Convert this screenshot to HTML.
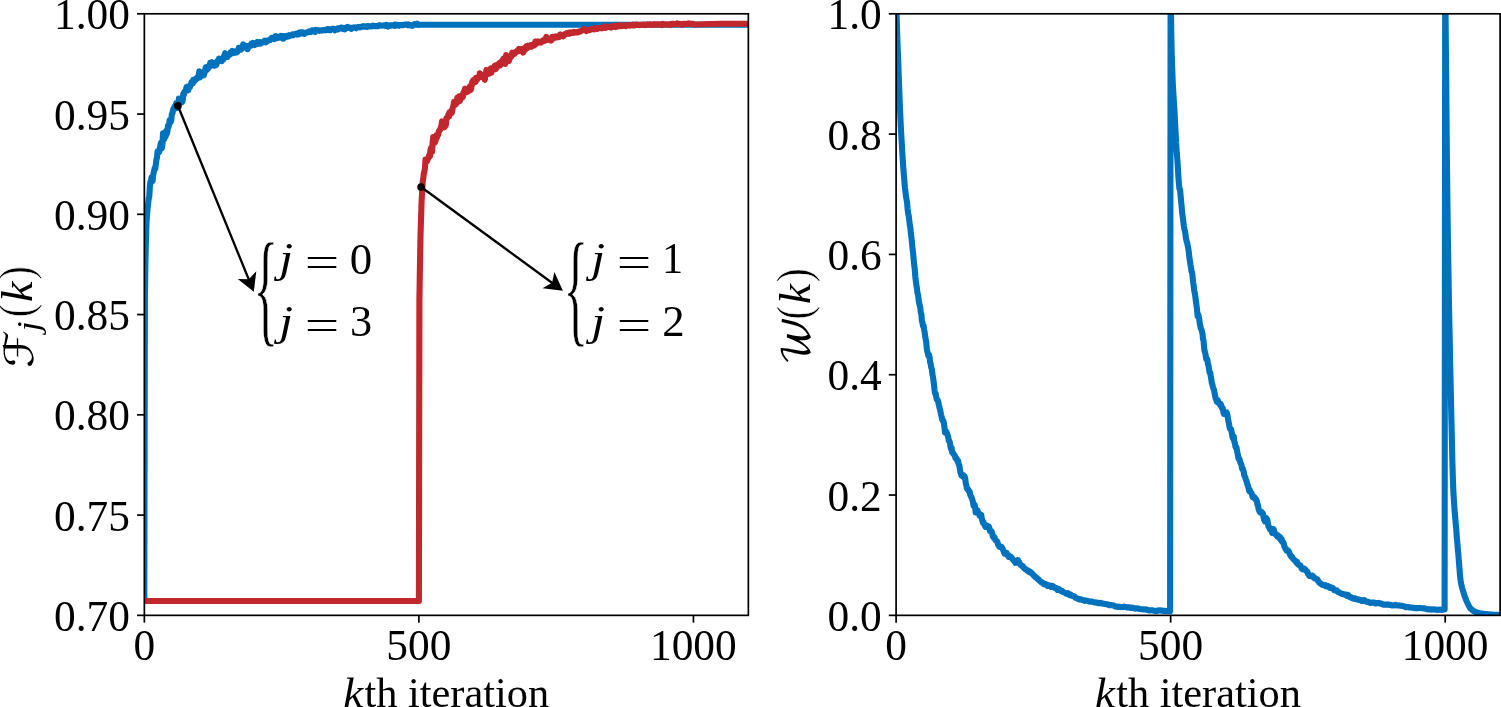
<!DOCTYPE html>
<html lang="en">
<head>
<meta charset="utf-8">
<title>Fidelity and cost versus iteration</title>
<style>
html,body{margin:0;padding:0;background:#fff;}
body{width:1501px;height:707px;overflow:hidden;}
svg{display:block;}
text{font-family:"Liberation Serif","DejaVu Serif",serif;fill:#000;}
.fi{font-style:italic;}
.fds{font-family:"DejaVu Sans","Liberation Serif",serif;}
.fdm{font-family:"DejaVu Math TeX Gyre","DejaVu Sans","Liberation Serif",serif;}
</style>
</head>
<body>
<svg width="1501" height="707" viewBox="0 0 1501 707">
<defs>
<clipPath id="cl"><rect x="144.35" y="13.80" width="604.00" height="601.55"/></clipPath>
<clipPath id="cr"><rect x="896.10" y="13.80" width="604.00" height="601.55"/></clipPath>
</defs>
<rect width="1501" height="707" fill="#fff"/>
<g fill="none" stroke-width="6.1" stroke-linejoin="round" stroke-linecap="butt">
<path clip-path="url(#cl)" stroke="#0072BD" d="M144.3,601.0L144.9,300.1L145.4,262.1L146.0,238.1L146.5,222.0L147.1,213.9L147.6,208.1L148.2,203.0L148.7,198.9L149.3,196.3L149.8,187.1L150.4,181.8L150.9,181.9L151.5,177.3L152.0,181.3L152.6,180.8L153.1,175.2L153.7,172.8L154.2,170.3L154.8,167.8L155.3,168.6L155.9,163.8L156.4,159.7L157.0,157.7L157.5,151.4L158.1,150.8L158.6,151.1L159.2,152.1L159.7,150.0L160.3,145.9L160.8,143.3L161.4,142.2L161.9,148.2L162.5,143.5L163.0,133.3L163.6,138.9L164.1,139.3L164.7,137.9L165.2,135.9L165.8,136.0L166.3,130.9L166.9,133.7L167.4,131.3L168.0,125.9L168.5,127.1L169.1,124.5L169.6,120.3L170.2,121.0L170.7,122.2L171.3,120.2L171.8,114.5L172.4,113.4L172.9,110.6L173.5,108.5L174.0,109.4L174.5,107.2L175.1,105.7L175.6,107.7L176.2,103.1L176.7,106.7L177.3,107.8L177.8,104.5L178.4,106.5L178.9,98.6L179.5,99.1L180.0,101.5L180.6,99.8L181.1,100.7L181.7,99.7L182.2,102.2L182.8,99.4L183.3,94.1L183.9,94.7L184.4,91.7L185.0,91.3L185.5,90.9L186.1,88.9L186.6,87.0L187.2,87.4L187.7,86.7L188.3,90.3L188.8,87.3L189.4,86.3L189.9,87.0L190.5,85.0L191.0,84.0L191.6,82.0L192.1,81.7L192.7,83.7L193.2,79.9L193.8,81.8L194.3,80.8L194.9,79.9L195.4,79.0L196.0,78.5L196.5,79.3L197.1,77.7L197.6,78.1L198.2,76.8L198.7,75.2L199.3,71.3L199.8,77.5L200.4,74.8L200.9,74.5L201.5,75.9L202.0,74.4L202.6,73.9L203.1,73.1L203.7,75.4L204.2,74.2L204.8,71.8L205.3,69.4L205.8,67.3L206.4,69.4L206.9,69.8L207.5,69.1L208.0,66.5L208.6,68.1L209.1,67.2L209.7,65.1L210.2,62.9L210.8,64.5L211.3,65.3L211.9,62.2L212.4,64.8L213.0,65.0L213.5,64.5L214.1,65.6L214.6,64.7L215.2,65.5L215.7,63.7L216.3,65.0L216.8,62.3L217.4,60.9L217.9,61.4L218.5,61.4L219.0,58.5L219.6,59.8L220.1,60.4L220.7,60.0L221.2,60.6L221.8,61.0L222.3,59.2L222.9,58.2L223.4,59.4L224.0,55.9L224.5,56.9L225.1,53.2L225.6,55.2L226.2,55.6L226.7,54.7L227.3,57.0L227.8,55.8L228.4,55.7L228.9,55.3L229.5,54.1L230.0,54.6L230.6,52.3L231.1,52.2L231.7,52.2L232.2,51.0L232.8,53.1L233.3,52.6L233.9,52.8L234.4,52.3L234.9,51.5L235.5,52.0L236.0,52.4L236.6,51.5L237.1,52.1L237.7,50.6L238.2,50.0L238.8,47.8L239.3,49.5L239.9,49.4L240.4,47.8L241.0,49.5L241.5,49.1L242.1,48.8L242.6,46.0L243.2,44.3L243.7,45.7L244.3,45.8L244.8,46.2L245.4,46.8L245.9,46.6L246.5,47.3L247.0,46.0L247.6,49.2L248.1,47.0L248.7,46.0L249.2,46.2L249.8,45.4L250.3,45.1L250.9,45.5L251.4,43.7L252.0,44.0L252.5,44.2L253.1,43.0L253.6,44.4L254.2,44.4L254.7,45.0L255.3,43.9L255.8,43.5L256.4,42.7L256.9,43.3L257.5,42.0L258.0,43.9L258.6,42.9L259.1,43.2L259.7,43.6L260.2,42.1L260.8,43.1L261.3,43.3L261.9,42.6L262.4,42.6L263.0,42.3L263.5,42.1L264.1,41.5L264.6,40.7L265.1,42.2L265.7,42.4L266.2,42.0L266.8,40.7L267.3,40.5L267.9,40.8L268.4,40.6L269.0,40.3L269.5,40.1L270.1,40.0L270.6,39.6L271.2,38.5L271.7,38.0L272.3,38.4L272.8,37.9L273.4,38.7L273.9,38.8L274.5,39.0L275.0,37.7L275.6,36.1L276.1,37.3L276.7,37.6L277.2,38.1L277.8,36.7L278.3,37.0L278.9,37.7L279.4,37.5L280.0,37.3L280.5,37.5L281.1,35.9L281.6,36.4L282.2,36.5L282.7,36.2L283.3,38.7L283.8,37.2L284.4,36.3L284.9,36.8L285.5,36.7L286.0,37.0L286.6,35.9L287.1,36.1L287.7,36.1L288.2,35.8L288.8,36.3L289.3,35.3L289.9,35.7L290.4,35.8L291.0,35.5L291.5,35.2L292.1,35.0L292.6,34.4L293.2,35.1L293.7,34.4L294.3,34.4L294.8,34.1L295.4,34.2L295.9,34.2L296.4,33.7L297.0,34.5L297.5,34.2L298.1,34.5L298.6,34.5L299.2,32.7L299.7,33.1L300.3,33.4L300.8,32.3L301.4,33.4L301.9,32.3L302.5,32.9L303.0,32.7L303.6,33.5L304.1,33.9L304.7,33.2L305.2,32.8L305.8,33.0L306.3,32.7L306.9,32.5L307.4,32.3L308.0,32.1L308.5,31.7L309.1,31.4L309.6,31.6L310.2,32.1L310.7,32.0L311.3,31.8L311.8,31.4L312.4,30.4L312.9,30.4L313.5,30.5L314.0,31.2L314.6,31.3L315.1,31.9L315.7,30.0L316.2,30.4L316.8,30.4L317.3,30.5L317.9,30.1L318.4,30.4L319.0,30.4L319.5,30.8L320.1,30.5L320.6,30.4L321.2,30.5L321.7,30.6L322.3,30.4L322.8,30.0L323.4,30.0L323.9,30.1L324.5,30.1L325.0,30.4L325.5,30.1L326.1,30.1L326.6,29.7L327.2,29.2L327.7,29.7L328.3,29.9L328.8,29.3L329.4,30.1L329.9,29.6L330.5,30.0L331.0,29.4L331.6,29.0L332.1,28.9L332.7,29.1L333.2,28.8L333.8,28.7L334.3,29.2L334.9,30.3L335.4,29.1L336.0,29.1L336.5,29.3L337.1,29.0L337.6,28.5L338.2,29.2L338.7,28.5L339.3,28.2L339.8,28.4L340.4,27.8L340.9,27.5L341.5,27.7L342.0,28.2L342.6,28.8L343.1,27.9L343.7,28.0L344.2,28.3L344.8,29.4L345.3,28.5L345.9,27.9L346.4,28.0L347.0,27.2L347.5,26.9L348.1,27.3L348.6,28.0L349.2,28.1L349.7,28.0L350.3,27.7L350.8,27.8L351.4,28.8L351.9,27.9L352.5,27.9L353.0,27.5L353.6,27.7L354.1,27.4L354.7,27.5L355.2,27.4L355.8,27.8L356.3,28.2L356.8,27.3L357.4,27.3L357.9,27.1L358.5,27.0L359.0,27.2L359.6,27.1L360.1,27.4L360.7,26.9L361.2,26.9L361.8,26.8L362.3,26.8L362.9,26.4L363.4,26.2L364.0,26.8L364.5,26.8L365.1,26.6L365.6,26.3L366.2,26.3L366.7,26.9L367.3,27.0L367.8,26.2L368.4,26.0L368.9,26.3L369.5,26.5L370.0,26.2L370.6,26.2L371.1,26.0L371.7,26.4L372.2,26.1L372.8,25.7L373.3,26.0L373.9,26.1L374.4,25.9L375.0,26.0L375.5,26.2L376.1,26.0L376.6,26.0L377.2,26.2L377.7,26.3L378.3,26.1L378.8,25.8L379.4,25.2L379.9,25.6L380.5,25.5L381.0,25.5L381.6,25.7L382.1,25.7L382.7,25.5L383.2,25.5L383.8,25.2L384.3,25.4L384.9,25.7L385.4,25.9L385.9,25.8L386.5,24.9L387.0,25.0L387.6,25.9L388.1,26.5L388.7,25.8L389.2,25.7L389.8,25.4L390.3,25.4L390.9,25.4L391.4,25.6L392.0,25.5L392.5,25.4L393.1,25.1L393.6,25.3L394.2,25.7L394.7,24.6L395.3,24.6L395.8,25.2L396.4,25.6L396.9,24.9L397.5,24.7L398.0,25.1L398.6,25.3L399.1,25.7L399.7,25.1L400.2,25.0L400.8,24.9L401.3,25.2L401.9,25.2L402.4,25.2L403.0,24.9L403.5,25.1L404.1,24.8L404.6,24.8L405.2,24.6L405.7,24.5L406.3,24.4L406.8,24.9L407.4,24.7L407.9,25.2L408.5,24.4L409.0,24.8L409.6,25.0L410.1,25.4L410.7,25.4L411.2,25.1L411.8,25.3L412.3,25.8L412.9,25.2L413.4,25.0L414.0,24.9L414.5,24.3L415.1,24.7L415.6,24.2L416.1,24.6L416.7,24.6L417.2,23.8L417.8,24.4L418.3,24.9L418.9,25.0L419.4,24.7L420.0,24.7L420.5,24.7L421.1,24.7L421.6,24.7L422.2,24.7L422.7,24.7L423.3,24.7L423.8,24.7L424.4,24.7L424.9,24.7L425.5,24.7L426.0,24.7L426.6,24.7L427.1,24.7L427.7,24.7L428.2,24.7L428.8,24.7L429.3,24.7L429.9,24.7L430.4,24.7L431.0,24.7L431.5,24.7L432.1,24.7L432.6,24.7L433.2,24.7L433.7,24.7L434.3,24.7L434.8,24.7L435.4,24.7L435.9,24.7L436.5,24.7L437.0,24.7L437.6,24.7L438.1,24.7L438.7,24.7L439.2,24.7L439.8,24.7L440.3,24.7L440.9,24.7L441.4,24.7L442.0,24.7L442.5,24.7L443.1,24.7L443.6,24.7L444.2,24.7L444.7,24.7L445.3,24.7L445.8,24.7L446.4,24.7L446.9,24.7L447.4,24.7L448.0,24.7L448.5,24.7L449.1,24.7L449.6,24.7L450.2,24.7L450.7,24.7L451.3,24.7L451.8,24.7L452.4,24.7L452.9,24.7L453.5,24.7L454.0,24.7L454.6,24.7L455.1,24.7L455.7,24.7L456.2,24.7L456.8,24.7L457.3,24.7L457.9,24.7L458.4,24.7L459.0,24.7L459.5,24.7L460.1,24.7L460.6,24.7L461.2,24.7L461.7,24.7L462.3,24.7L462.8,24.7L463.4,24.7L463.9,24.7L464.5,24.7L465.0,24.7L465.6,24.7L466.1,24.7L466.7,24.7L467.2,24.7L467.8,24.7L468.3,24.7L468.9,24.7L469.4,24.7L470.0,24.7L470.5,24.7L471.1,24.7L471.6,24.7L472.2,24.7L472.7,24.7L473.3,24.7L473.8,24.7L474.4,24.7L474.9,24.7L475.5,24.7L476.0,24.7L476.5,24.7L477.1,24.7L477.6,24.7L478.2,24.7L478.7,24.7L479.3,24.7L479.8,24.7L480.4,24.7L480.9,24.7L481.5,24.7L482.0,24.7L482.6,24.7L483.1,24.7L483.7,24.7L484.2,24.7L484.8,24.7L485.3,24.7L485.9,24.7L486.4,24.7L487.0,24.7L487.5,24.7L488.1,24.7L488.6,24.7L489.2,24.7L489.7,24.7L490.3,24.7L490.8,24.7L491.4,24.7L491.9,24.7L492.5,24.7L493.0,24.7L493.6,24.7L494.1,24.7L494.7,24.7L495.2,24.7L495.8,24.7L496.3,24.7L496.9,24.7L497.4,24.7L498.0,24.7L498.5,24.7L499.1,24.7L499.6,24.7L500.2,24.7L500.7,24.7L501.3,24.7L501.8,24.7L502.4,24.7L502.9,24.7L503.5,24.7L504.0,24.7L504.6,24.7L505.1,24.7L505.7,24.7L506.2,24.7L506.8,24.7L507.3,24.7L507.8,24.7L508.4,24.7L508.9,24.7L509.5,24.7L510.0,24.7L510.6,24.7L511.1,24.7L511.7,24.7L512.2,24.7L512.8,24.7L513.3,24.7L513.9,24.7L514.4,24.7L515.0,24.7L515.5,24.7L516.1,24.7L516.6,24.7L517.2,24.7L517.7,24.7L518.3,24.7L518.8,24.7L519.4,24.7L519.9,24.7L520.5,24.7L521.0,24.7L521.6,24.7L522.1,24.7L522.7,24.7L523.2,24.7L523.8,24.7L524.3,24.7L524.9,24.7L525.4,24.7L526.0,24.7L526.5,24.7L527.1,24.7L527.6,24.7L528.2,24.7L528.7,24.7L529.3,24.7L529.8,24.7L530.4,24.7L530.9,24.7L531.5,24.7L532.0,24.7L532.6,24.7L533.1,24.7L533.7,24.7L534.2,24.7L534.8,24.7L535.3,24.7L535.9,24.7L536.4,24.7L536.9,24.7L537.5,24.7L538.0,24.7L538.6,24.7L539.1,24.7L539.7,24.7L540.2,24.7L540.8,24.7L541.3,24.7L541.9,24.7L542.4,24.7L543.0,24.7L543.5,24.7L544.1,24.7L544.6,24.7L545.2,24.7L545.7,24.7L546.3,24.7L546.8,24.7L547.4,24.7L547.9,24.7L548.5,24.7L549.0,24.7L549.6,24.7L550.1,24.7L550.7,24.7L551.2,24.7L551.8,24.7L552.3,24.7L552.9,24.7L553.4,24.7L554.0,24.7L554.5,24.7L555.1,24.7L555.6,24.7L556.2,24.7L556.7,24.7L557.3,24.7L557.8,24.7L558.4,24.7L558.9,24.7L559.5,24.7L560.0,24.7L560.6,24.7L561.1,24.7L561.7,24.7L562.2,24.7L562.8,24.7L563.3,24.7L563.9,24.7L564.4,24.7L565.0,24.7L565.5,24.7L566.1,24.7L566.6,24.7L567.1,24.7L567.7,24.7L568.2,24.7L568.8,24.7L569.3,24.7L569.9,24.7L570.4,24.7L571.0,24.7L571.5,24.7L572.1,24.7L572.6,24.7L573.2,24.7L573.7,24.7L574.3,24.7L574.8,24.7L575.4,24.7L575.9,24.7L576.5,24.7L577.0,24.7L577.6,24.7L578.1,24.7L578.7,24.7L579.2,24.7L579.8,24.7L580.3,24.7L580.9,24.7L581.4,24.7L582.0,24.7L582.5,24.7L583.1,24.7L583.6,24.7L584.2,24.7L584.7,24.7L585.3,24.7L585.8,24.7L586.4,24.7L586.9,24.7L587.5,24.7L588.0,24.7L588.6,24.7L589.1,24.7L589.7,24.7L590.2,24.7L590.8,24.7L591.3,24.7L591.9,24.7L592.4,24.7L593.0,24.7L593.5,24.7L594.1,24.7L594.6,24.7L595.2,24.7L595.7,24.7L596.3,24.7L596.8,24.7L597.4,24.7L597.9,24.7L598.4,24.7L599.0,24.7L599.5,24.7L600.1,24.7L600.6,24.7L601.2,24.7L601.7,24.7L602.3,24.7L602.8,24.7L603.4,24.7L603.9,24.7L604.5,24.7L605.0,24.7L605.6,24.7L606.1,24.7L606.7,24.7L607.2,24.7L607.8,24.7L608.3,24.7L608.9,24.7L609.4,24.7L610.0,24.7L610.5,24.7L611.1,24.7L611.6,24.7L612.2,24.7L612.7,24.7L613.3,24.7L613.8,24.7L614.4,24.7L614.9,24.7L615.5,24.7L616.0,24.7L616.6,24.7L617.1,24.7L617.7,24.7L618.2,24.7L618.8,24.7L619.3,24.7L619.9,24.7L620.4,24.7L621.0,24.7L621.5,24.7L622.1,24.7L622.6,24.7L623.2,24.7L623.7,24.7L624.3,24.7L624.8,24.7L625.4,24.7L625.9,24.7L626.5,24.7L627.0,24.7L627.5,24.7L628.1,24.7L628.6,24.7L629.2,24.7L629.7,24.7L630.3,24.7L630.8,24.7L631.4,24.7L631.9,24.7L632.5,24.7L633.0,24.7L633.6,24.7L634.1,24.7L634.7,24.7L635.2,24.7L635.8,24.7L636.3,24.7L636.9,24.7L637.4,24.7L638.0,24.7L638.5,24.7L639.1,24.7L639.6,24.7L640.2,24.7L640.7,24.7L641.3,24.7L641.8,24.7L642.4,24.7L642.9,24.7L643.5,24.7L644.0,24.7L644.6,24.7L645.1,24.7L645.7,24.7L646.2,24.7L646.8,24.7L647.3,24.7L647.9,24.7L648.4,24.7L649.0,24.7L649.5,24.7L650.1,24.7L650.6,24.7L651.2,24.7L651.7,24.7L652.3,24.7L652.8,24.7L653.4,24.7L653.9,24.7L654.5,24.7L655.0,24.7L655.6,24.7L656.1,24.7L656.7,24.7L657.2,24.7L657.8,24.7L658.3,24.7L658.8,24.7L659.4,24.7L659.9,24.7L660.5,24.7L661.0,24.7L661.6,24.7L662.1,24.7L662.7,24.7L663.2,24.7L663.8,24.7L664.3,24.7L664.9,24.7L665.4,24.7L666.0,24.7L666.5,24.7L667.1,24.7L667.6,24.7L668.2,24.7L668.7,24.7L669.3,24.7L669.8,24.7L670.4,24.7L670.9,24.7L671.5,24.7L672.0,24.7L672.6,24.7L673.1,24.7L673.7,24.7L674.2,24.7L674.8,24.7L675.3,24.7L675.9,24.7L676.4,24.7L677.0,24.7L677.5,24.7L678.1,24.7L678.6,24.7L679.2,24.7L679.7,24.7L680.3,24.7L680.8,24.7L681.4,24.7L681.9,24.7L682.5,24.7L683.0,24.7L683.6,24.7L684.1,24.7L684.7,24.7L685.2,24.7L685.8,24.7L686.3,24.7L686.9,24.7L687.4,24.7L688.0,24.7L688.5,24.7L689.0,24.7L689.6,24.7L690.1,24.7L690.7,24.7L691.2,24.7L691.8,24.7L692.3,24.7L692.9,24.7L693.4,24.7L720.9,24.7L748.4,24.7"/>
<path clip-path="url(#cl)" stroke="#C1272D" d="M144.3,601.0L144.9,601.0L145.4,601.0L146.0,601.0L146.5,601.0L147.1,601.0L147.6,601.0L148.2,601.0L148.7,601.0L149.3,601.0L149.8,601.0L150.4,601.0L150.9,601.0L151.5,601.0L152.0,601.0L152.6,601.0L153.1,601.0L153.7,601.0L154.2,601.0L154.8,601.0L155.3,601.0L155.9,601.0L156.4,601.0L157.0,601.0L157.5,601.0L158.1,601.0L158.6,601.0L159.2,601.0L159.7,601.0L160.3,601.0L160.8,601.0L161.4,601.0L161.9,601.0L162.5,601.0L163.0,601.0L163.6,601.0L164.1,601.0L164.7,601.0L165.2,601.0L165.8,601.0L166.3,601.0L166.9,601.0L167.4,601.0L168.0,601.0L168.5,601.0L169.1,601.0L169.6,601.0L170.2,601.0L170.7,601.0L171.3,601.0L171.8,601.0L172.4,601.0L172.9,601.0L173.5,601.0L174.0,601.0L174.5,601.0L175.1,601.0L175.6,601.0L176.2,601.0L176.7,601.0L177.3,601.0L177.8,601.0L178.4,601.0L178.9,601.0L179.5,601.0L180.0,601.0L180.6,601.0L181.1,601.0L181.7,601.0L182.2,601.0L182.8,601.0L183.3,601.0L183.9,601.0L184.4,601.0L185.0,601.0L185.5,601.0L186.1,601.0L186.6,601.0L187.2,601.0L187.7,601.0L188.3,601.0L188.8,601.0L189.4,601.0L189.9,601.0L190.5,601.0L191.0,601.0L191.6,601.0L192.1,601.0L192.7,601.0L193.2,601.0L193.8,601.0L194.3,601.0L194.9,601.0L195.4,601.0L196.0,601.0L196.5,601.0L197.1,601.0L197.6,601.0L198.2,601.0L198.7,601.0L199.3,601.0L199.8,601.0L200.4,601.0L200.9,601.0L201.5,601.0L202.0,601.0L202.6,601.0L203.1,601.0L203.7,601.0L204.2,601.0L204.8,601.0L205.3,601.0L205.8,601.0L206.4,601.0L206.9,601.0L207.5,601.0L208.0,601.0L208.6,601.0L209.1,601.0L209.7,601.0L210.2,601.0L210.8,601.0L211.3,601.0L211.9,601.0L212.4,601.0L213.0,601.0L213.5,601.0L214.1,601.0L214.6,601.0L215.2,601.0L215.7,601.0L216.3,601.0L216.8,601.0L217.4,601.0L217.9,601.0L218.5,601.0L219.0,601.0L219.6,601.0L220.1,601.0L220.7,601.0L221.2,601.0L221.8,601.0L222.3,601.0L222.9,601.0L223.4,601.0L224.0,601.0L224.5,601.0L225.1,601.0L225.6,601.0L226.2,601.0L226.7,601.0L227.3,601.0L227.8,601.0L228.4,601.0L228.9,601.0L229.5,601.0L230.0,601.0L230.6,601.0L231.1,601.0L231.7,601.0L232.2,601.0L232.8,601.0L233.3,601.0L233.9,601.0L234.4,601.0L234.9,601.0L235.5,601.0L236.0,601.0L236.6,601.0L237.1,601.0L237.7,601.0L238.2,601.0L238.8,601.0L239.3,601.0L239.9,601.0L240.4,601.0L241.0,601.0L241.5,601.0L242.1,601.0L242.6,601.0L243.2,601.0L243.7,601.0L244.3,601.0L244.8,601.0L245.4,601.0L245.9,601.0L246.5,601.0L247.0,601.0L247.6,601.0L248.1,601.0L248.7,601.0L249.2,601.0L249.8,601.0L250.3,601.0L250.9,601.0L251.4,601.0L252.0,601.0L252.5,601.0L253.1,601.0L253.6,601.0L254.2,601.0L254.7,601.0L255.3,601.0L255.8,601.0L256.4,601.0L256.9,601.0L257.5,601.0L258.0,601.0L258.6,601.0L259.1,601.0L259.7,601.0L260.2,601.0L260.8,601.0L261.3,601.0L261.9,601.0L262.4,601.0L263.0,601.0L263.5,601.0L264.1,601.0L264.6,601.0L265.1,601.0L265.7,601.0L266.2,601.0L266.8,601.0L267.3,601.0L267.9,601.0L268.4,601.0L269.0,601.0L269.5,601.0L270.1,601.0L270.6,601.0L271.2,601.0L271.7,601.0L272.3,601.0L272.8,601.0L273.4,601.0L273.9,601.0L274.5,601.0L275.0,601.0L275.6,601.0L276.1,601.0L276.7,601.0L277.2,601.0L277.8,601.0L278.3,601.0L278.9,601.0L279.4,601.0L280.0,601.0L280.5,601.0L281.1,601.0L281.6,601.0L282.2,601.0L282.7,601.0L283.3,601.0L283.8,601.0L284.4,601.0L284.9,601.0L285.5,601.0L286.0,601.0L286.6,601.0L287.1,601.0L287.7,601.0L288.2,601.0L288.8,601.0L289.3,601.0L289.9,601.0L290.4,601.0L291.0,601.0L291.5,601.0L292.1,601.0L292.6,601.0L293.2,601.0L293.7,601.0L294.3,601.0L294.8,601.0L295.4,601.0L295.9,601.0L296.4,601.0L297.0,601.0L297.5,601.0L298.1,601.0L298.6,601.0L299.2,601.0L299.7,601.0L300.3,601.0L300.8,601.0L301.4,601.0L301.9,601.0L302.5,601.0L303.0,601.0L303.6,601.0L304.1,601.0L304.7,601.0L305.2,601.0L305.8,601.0L306.3,601.0L306.9,601.0L307.4,601.0L308.0,601.0L308.5,601.0L309.1,601.0L309.6,601.0L310.2,601.0L310.7,601.0L311.3,601.0L311.8,601.0L312.4,601.0L312.9,601.0L313.5,601.0L314.0,601.0L314.6,601.0L315.1,601.0L315.7,601.0L316.2,601.0L316.8,601.0L317.3,601.0L317.9,601.0L318.4,601.0L319.0,601.0L319.5,601.0L320.1,601.0L320.6,601.0L321.2,601.0L321.7,601.0L322.3,601.0L322.8,601.0L323.4,601.0L323.9,601.0L324.5,601.0L325.0,601.0L325.5,601.0L326.1,601.0L326.6,601.0L327.2,601.0L327.7,601.0L328.3,601.0L328.8,601.0L329.4,601.0L329.9,601.0L330.5,601.0L331.0,601.0L331.6,601.0L332.1,601.0L332.7,601.0L333.2,601.0L333.8,601.0L334.3,601.0L334.9,601.0L335.4,601.0L336.0,601.0L336.5,601.0L337.1,601.0L337.6,601.0L338.2,601.0L338.7,601.0L339.3,601.0L339.8,601.0L340.4,601.0L340.9,601.0L341.5,601.0L342.0,601.0L342.6,601.0L343.1,601.0L343.7,601.0L344.2,601.0L344.8,601.0L345.3,601.0L345.9,601.0L346.4,601.0L347.0,601.0L347.5,601.0L348.1,601.0L348.6,601.0L349.2,601.0L349.7,601.0L350.3,601.0L350.8,601.0L351.4,601.0L351.9,601.0L352.5,601.0L353.0,601.0L353.6,601.0L354.1,601.0L354.7,601.0L355.2,601.0L355.8,601.0L356.3,601.0L356.8,601.0L357.4,601.0L357.9,601.0L358.5,601.0L359.0,601.0L359.6,601.0L360.1,601.0L360.7,601.0L361.2,601.0L361.8,601.0L362.3,601.0L362.9,601.0L363.4,601.0L364.0,601.0L364.5,601.0L365.1,601.0L365.6,601.0L366.2,601.0L366.7,601.0L367.3,601.0L367.8,601.0L368.4,601.0L368.9,601.0L369.5,601.0L370.0,601.0L370.6,601.0L371.1,601.0L371.7,601.0L372.2,601.0L372.8,601.0L373.3,601.0L373.9,601.0L374.4,601.0L375.0,601.0L375.5,601.0L376.1,601.0L376.6,601.0L377.2,601.0L377.7,601.0L378.3,601.0L378.8,601.0L379.4,601.0L379.9,601.0L380.5,601.0L381.0,601.0L381.6,601.0L382.1,601.0L382.7,601.0L383.2,601.0L383.8,601.0L384.3,601.0L384.9,601.0L385.4,601.0L385.9,601.0L386.5,601.0L387.0,601.0L387.6,601.0L388.1,601.0L388.7,601.0L389.2,601.0L389.8,601.0L390.3,601.0L390.9,601.0L391.4,601.0L392.0,601.0L392.5,601.0L393.1,601.0L393.6,601.0L394.2,601.0L394.7,601.0L395.3,601.0L395.8,601.0L396.4,601.0L396.9,601.0L397.5,601.0L398.0,601.0L398.6,601.0L399.1,601.0L399.7,601.0L400.2,601.0L400.8,601.0L401.3,601.0L401.9,601.0L402.4,601.0L403.0,601.0L403.5,601.0L404.1,601.0L404.6,601.0L405.2,601.0L405.7,601.0L406.3,601.0L406.8,601.0L407.4,601.0L407.9,601.0L408.5,601.0L409.0,601.0L409.6,601.0L410.1,601.0L410.7,601.0L411.2,601.0L411.8,601.0L412.3,601.0L412.9,601.0L413.4,601.0L414.0,601.0L414.5,601.0L415.1,601.0L415.6,601.0L416.1,601.0L416.7,601.0L417.2,601.0L417.8,601.0L418.3,601.0L418.9,601.0L419.4,300.4L420.0,262.4L420.5,236.3L421.1,216.6L421.6,201.4L422.2,190.3L422.7,181.9L423.3,177.9L423.8,173.7L424.4,171.6L424.9,168.8L425.5,159.5L426.0,159.8L426.6,160.9L427.1,161.1L427.7,159.1L428.2,158.7L428.8,156.7L429.3,154.8L429.9,156.4L430.4,150.2L431.0,148.0L431.5,147.2L432.1,151.9L432.6,142.8L433.2,137.1L433.7,141.8L434.3,140.6L434.8,142.7L435.4,141.2L435.9,139.5L436.5,135.0L437.0,137.4L437.6,134.5L438.1,134.9L438.7,131.9L439.2,130.6L439.8,130.3L440.3,129.2L440.9,127.0L441.4,126.0L442.0,121.4L442.5,124.3L443.1,125.0L443.6,123.2L444.2,127.4L444.7,126.9L445.3,121.4L445.8,125.2L446.4,118.2L446.9,118.4L447.4,117.8L448.0,116.3L448.5,114.4L449.1,116.5L449.6,112.2L450.2,112.9L450.7,113.1L451.3,110.8L451.8,113.0L452.4,109.2L452.9,107.3L453.5,105.8L454.0,101.8L454.6,104.0L455.1,103.6L455.7,104.5L456.2,103.3L456.8,103.0L457.3,97.8L457.9,99.0L458.4,99.9L459.0,96.3L459.5,101.2L460.1,100.5L460.6,97.8L461.2,97.1L461.7,95.6L462.3,95.2L462.8,97.2L463.4,92.7L463.9,91.9L464.5,91.0L465.0,88.8L465.6,91.0L466.1,89.2L466.7,90.8L467.2,92.0L467.8,89.1L468.3,91.2L468.9,89.1L469.4,86.9L470.0,86.3L470.5,90.0L471.1,89.1L471.6,86.0L472.2,81.9L472.7,83.8L473.3,80.1L473.8,80.2L474.4,81.4L474.9,81.5L475.5,81.9L476.0,77.9L476.5,80.4L477.1,78.8L477.6,79.2L478.2,77.8L478.7,77.5L479.3,77.5L479.8,73.4L480.4,75.5L480.9,75.4L481.5,74.6L482.0,75.7L482.6,75.5L483.1,77.4L483.7,74.9L484.2,75.1L484.8,79.9L485.3,76.7L485.9,73.0L486.4,69.9L487.0,72.8L487.5,72.4L488.1,73.1L488.6,70.5L489.2,73.7L489.7,71.5L490.3,71.1L490.8,68.3L491.4,72.8L491.9,69.7L492.5,69.8L493.0,68.5L493.6,68.5L494.1,69.5L494.7,65.8L495.2,65.4L495.8,69.1L496.3,68.0L496.9,67.5L497.4,65.3L498.0,64.4L498.5,64.2L499.1,63.4L499.6,63.0L500.2,65.3L500.7,64.7L501.3,64.0L501.8,61.0L502.4,60.8L502.9,59.9L503.5,58.6L504.0,60.1L504.6,60.2L505.1,63.9L505.7,60.3L506.2,55.0L506.8,57.4L507.3,58.2L507.8,58.7L508.4,58.3L508.9,61.1L509.5,59.2L510.0,56.0L510.6,56.4L511.1,56.9L511.7,55.3L512.2,52.7L512.8,53.8L513.3,54.2L513.9,53.2L514.4,54.0L515.0,53.1L515.5,52.0L516.1,51.9L516.6,51.5L517.2,51.6L517.7,50.4L518.3,49.8L518.8,49.0L519.4,50.5L519.9,49.9L520.5,50.8L521.0,49.2L521.6,49.6L522.1,49.5L522.7,50.6L523.2,52.6L523.8,48.4L524.3,49.3L524.9,50.1L525.4,49.4L526.0,47.3L526.5,46.1L527.1,48.3L527.6,46.8L528.2,45.8L528.7,46.1L529.3,46.5L529.8,45.9L530.4,46.2L530.9,45.1L531.5,46.6L532.0,46.4L532.6,45.0L533.1,44.6L533.7,45.5L534.2,45.5L534.8,44.6L535.3,41.6L535.9,43.0L536.4,43.5L536.9,43.4L537.5,42.6L538.0,41.5L538.6,42.4L539.1,41.7L539.7,41.8L540.2,42.3L540.8,42.6L541.3,41.3L541.9,41.1L542.4,41.5L543.0,40.4L543.5,40.7L544.1,40.0L544.6,40.9L545.2,39.9L545.7,38.7L546.3,36.9L546.8,38.6L547.4,38.7L547.9,39.8L548.5,39.2L549.0,38.7L549.6,38.8L550.1,38.8L550.7,39.3L551.2,40.5L551.8,38.7L552.3,36.8L552.9,36.9L553.4,37.6L554.0,38.2L554.5,37.3L555.1,36.5L555.6,36.4L556.2,37.1L556.7,37.3L557.3,36.8L557.8,36.7L558.4,36.5L558.9,37.0L559.5,35.9L560.0,34.6L560.6,35.4L561.1,34.7L561.7,35.2L562.2,35.1L562.8,35.4L563.3,36.3L563.9,35.4L564.4,35.0L565.0,34.1L565.5,34.2L566.1,33.9L566.6,33.1L567.1,33.4L567.7,33.7L568.2,33.3L568.8,32.7L569.3,33.7L569.9,32.6L570.4,32.3L571.0,33.1L571.5,33.0L572.1,33.0L572.6,32.5L573.2,32.7L573.7,31.9L574.3,32.2L574.8,32.6L575.4,32.1L575.9,32.3L576.5,32.4L577.0,32.2L577.6,31.9L578.1,32.3L578.7,32.0L579.2,31.4L579.8,31.3L580.3,31.5L580.9,31.2L581.4,30.9L582.0,30.5L582.5,30.2L583.1,29.9L583.6,29.2L584.2,29.1L584.7,29.8L585.3,30.4L585.8,30.3L586.4,31.0L586.9,30.1L587.5,30.4L588.0,30.4L588.6,30.2L589.1,29.9L589.7,30.1L590.2,29.3L590.8,29.0L591.3,29.1L591.9,29.1L592.4,29.1L593.0,28.7L593.5,28.8L594.1,29.2L594.6,28.3L595.2,28.3L595.7,28.1L596.3,28.2L596.8,28.3L597.4,28.8L597.9,28.2L598.4,28.0L599.0,27.9L599.5,28.3L600.1,28.1L600.6,28.1L601.2,28.3L601.7,28.2L602.3,28.2L602.8,27.5L603.4,27.4L603.9,27.2L604.5,26.6L605.0,27.1L605.6,27.9L606.1,27.6L606.7,27.1L607.2,26.9L607.8,26.9L608.3,27.0L608.9,26.9L609.4,27.2L610.0,27.0L610.5,26.9L611.1,27.5L611.6,26.7L612.2,26.2L612.7,26.4L613.3,25.9L613.8,26.0L614.4,26.5L614.9,27.0L615.5,27.1L616.0,26.2L616.6,25.7L617.1,26.3L617.7,26.3L618.2,26.4L618.8,26.2L619.3,26.0L619.9,25.3L620.4,25.9L621.0,26.1L621.5,25.6L622.1,25.9L622.6,25.7L623.2,25.7L623.7,25.9L624.3,25.9L624.8,25.3L625.4,25.5L625.9,26.1L626.5,25.4L627.0,25.3L627.5,25.5L628.1,25.3L628.6,25.3L629.2,25.4L629.7,25.7L630.3,25.3L630.8,25.1L631.4,25.3L631.9,25.0L632.5,25.3L633.0,24.8L633.6,25.3L634.1,25.2L634.7,25.5L635.2,25.2L635.8,24.5L636.3,24.5L636.9,24.8L637.4,24.9L638.0,25.0L638.5,24.9L639.1,25.0L639.6,25.1L640.2,24.9L640.7,25.0L641.3,24.8L641.8,25.0L642.4,24.7L642.9,24.7L643.5,24.7L644.0,24.6L644.6,24.9L645.1,25.2L645.7,24.7L646.2,24.8L646.8,24.7L647.3,24.4L647.9,24.7L648.4,24.5L649.0,24.7L649.5,24.4L650.1,24.3L650.6,24.7L651.2,24.7L651.7,24.9L652.3,24.5L652.8,24.5L653.4,24.3L653.9,24.4L654.5,24.3L655.0,24.6L655.6,24.3L656.1,24.7L656.7,24.5L657.2,24.3L657.8,24.3L658.3,24.4L658.8,24.2L659.4,24.6L659.9,24.4L660.5,24.2L661.0,24.4L661.6,24.5L662.1,25.0L662.7,23.9L663.2,24.1L663.8,24.2L664.3,24.4L664.9,24.3L665.4,24.2L666.0,24.5L666.5,24.4L667.1,24.4L667.6,24.5L668.2,24.7L668.7,24.5L669.3,24.5L669.8,24.2L670.4,25.0L670.9,24.2L671.5,24.1L672.0,23.9L672.6,24.1L673.1,23.8L673.7,23.9L674.2,24.3L674.8,24.0L675.3,24.2L675.9,24.1L676.4,24.1L677.0,23.5L677.5,24.0L678.1,23.9L678.6,23.9L679.2,24.1L679.7,23.8L680.3,23.9L680.8,24.1L681.4,24.3L681.9,24.3L682.5,24.7L683.0,24.5L683.6,23.9L684.1,23.7L684.7,24.0L685.2,24.0L685.8,23.8L686.3,24.0L686.9,23.9L687.4,23.9L688.0,24.1L688.5,24.0L689.0,23.4L689.6,23.7L690.1,24.0L690.7,24.0L691.2,23.8L691.8,23.7L692.3,23.7L692.9,23.7L693.4,24.5L720.9,23.8L748.4,23.8"/>
<path clip-path="url(#cr)" stroke="#0072BD" d="M896.1,-40.0L896.6,14.0L897.2,34.8L897.7,48.3L898.3,61.9L898.8,78.5L899.4,93.1L899.9,107.0L900.5,119.5L901.0,130.5L901.6,140.3L902.1,149.4L902.7,158.6L903.2,166.6L903.8,174.0L904.3,180.0L904.9,187.5L905.4,191.6L906.0,196.4L906.5,199.2L907.1,202.8L907.6,209.1L908.2,213.7L908.7,215.6L909.3,220.5L909.8,224.9L910.4,228.1L910.9,233.5L911.5,238.0L912.0,242.9L912.6,249.2L913.1,253.2L913.7,260.0L914.2,264.7L914.8,269.5L915.3,276.5L915.9,281.6L916.4,285.2L917.0,289.0L917.5,293.2L918.1,294.8L918.6,299.7L919.2,303.4L919.7,305.1L920.3,307.6L920.8,312.7L921.4,314.4L921.9,321.1L922.5,322.6L923.0,326.1L923.6,325.7L924.1,329.5L924.7,332.4L925.2,336.6L925.8,340.1L926.3,342.7L926.8,348.7L927.4,352.1L927.9,353.3L928.5,356.2L929.0,354.6L929.6,357.1L930.1,362.1L930.7,364.2L931.2,367.5L931.8,368.9L932.3,373.4L932.9,376.7L933.4,380.0L934.0,384.6L934.5,389.9L935.1,393.6L935.6,393.4L936.2,396.5L936.7,399.3L937.3,399.9L937.8,400.3L938.4,402.6L938.9,405.1L939.5,407.7L940.0,409.3L940.6,412.2L941.1,415.1L941.7,416.9L942.2,419.7L942.8,420.9L943.3,420.8L943.9,423.3L944.4,426.8L945.0,432.4L945.5,430.6L946.1,431.6L946.6,432.2L947.2,434.6L947.7,435.3L948.3,437.4L948.8,440.7L949.4,441.1L949.9,442.7L950.5,446.6L951.0,449.0L951.6,447.7L952.1,452.1L952.7,452.1L953.2,453.7L953.8,454.3L954.3,455.0L954.9,455.6L955.4,458.1L956.0,458.5L956.5,458.4L957.0,459.6L957.6,461.6L958.1,460.7L958.7,464.2L959.2,465.1L959.8,468.1L960.3,471.8L960.9,473.4L961.4,475.4L962.0,475.8L962.5,476.1L963.1,474.9L963.6,476.6L964.2,477.7L964.7,476.3L965.3,479.2L965.8,483.5L966.4,485.6L966.9,488.6L967.5,489.3L968.0,489.0L968.6,490.6L969.1,491.6L969.7,491.5L970.2,494.7L970.8,496.3L971.3,496.8L971.9,498.6L972.4,499.8L973.0,502.1L973.5,505.6L974.1,505.5L974.6,504.8L975.2,508.1L975.7,512.4L976.3,511.8L976.8,511.1L977.4,510.3L977.9,511.5L978.5,512.8L979.0,513.4L979.6,515.6L980.1,515.3L980.7,515.5L981.2,514.9L981.8,518.1L982.3,520.4L982.9,522.7L983.4,521.8L984.0,524.1L984.5,524.8L985.1,526.0L985.6,526.9L986.2,526.7L986.7,527.0L987.2,525.7L987.8,526.1L988.3,526.9L988.9,526.7L989.4,528.2L990.0,531.0L990.5,531.3L991.1,531.2L991.6,531.4L992.2,533.0L992.7,536.1L993.3,537.0L993.8,537.8L994.4,537.2L994.9,538.5L995.5,540.1L996.0,540.4L996.6,541.1L997.1,541.3L997.7,542.9L998.2,544.9L998.8,545.7L999.3,546.6L999.9,547.0L1000.4,546.7L1001.0,546.5L1001.5,546.9L1002.1,547.8L1002.6,548.5L1003.2,550.1L1003.7,551.3L1004.3,553.0L1004.8,553.8L1005.4,553.7L1005.9,554.0L1006.5,552.8L1007.0,554.9L1007.6,554.7L1008.1,554.8L1008.7,556.9L1009.2,556.2L1009.8,556.1L1010.3,556.6L1010.9,556.7L1011.4,557.5L1012.0,558.2L1012.5,559.3L1013.1,559.6L1013.6,560.6L1014.2,560.7L1014.7,561.5L1015.3,562.8L1015.8,561.6L1016.4,561.9L1016.9,562.6L1017.4,561.6L1018.0,560.1L1018.5,561.5L1019.1,562.0L1019.6,563.5L1020.2,564.2L1020.7,564.9L1021.3,565.3L1021.8,566.0L1022.4,565.9L1022.9,566.2L1023.5,567.5L1024.0,567.8L1024.6,568.7L1025.1,569.2L1025.7,569.4L1026.2,569.3L1026.8,570.4L1027.3,570.4L1027.9,571.2L1028.4,570.7L1029.0,571.5L1029.5,572.3L1030.1,572.4L1030.6,572.0L1031.2,572.7L1031.7,573.4L1032.3,573.7L1032.8,574.0L1033.4,575.2L1033.9,575.6L1034.5,575.9L1035.0,576.9L1035.6,577.2L1036.1,577.2L1036.7,578.2L1037.2,578.3L1037.8,579.2L1038.3,579.2L1038.9,579.7L1039.4,580.7L1040.0,581.1L1040.5,581.5L1041.1,581.9L1041.6,582.5L1042.2,582.6L1042.7,583.0L1043.3,583.0L1043.8,584.1L1044.4,583.7L1044.9,584.3L1045.5,583.9L1046.0,584.4L1046.6,585.2L1047.1,584.8L1047.6,585.9L1048.2,585.5L1048.7,585.4L1049.3,585.8L1049.8,585.6L1050.4,586.4L1050.9,586.9L1051.5,585.9L1052.0,585.8L1052.6,586.0L1053.1,586.8L1053.7,586.8L1054.2,587.0L1054.8,587.8L1055.3,587.8L1055.9,588.4L1056.4,588.2L1057.0,589.1L1057.5,590.0L1058.1,589.8L1058.6,589.2L1059.2,589.0L1059.7,589.9L1060.3,590.2L1060.8,591.0L1061.4,590.8L1061.9,590.8L1062.5,591.2L1063.0,592.0L1063.6,592.2L1064.1,592.2L1064.7,592.6L1065.2,593.0L1065.8,593.4L1066.3,593.6L1066.9,593.6L1067.4,593.9L1068.0,593.3L1068.5,593.9L1069.1,594.6L1069.6,595.1L1070.2,595.0L1070.7,594.7L1071.3,595.5L1071.8,595.6L1072.4,595.8L1072.9,596.1L1073.5,596.2L1074.0,596.4L1074.6,597.1L1075.1,597.1L1075.7,597.9L1076.2,598.1L1076.8,598.2L1077.3,598.5L1077.8,598.8L1078.4,599.1L1078.9,599.3L1079.5,599.1L1080.0,599.6L1080.6,599.5L1081.1,599.3L1081.7,599.7L1082.2,599.9L1082.8,600.0L1083.3,600.0L1083.9,600.3L1084.4,600.9L1085.0,600.8L1085.5,600.5L1086.1,600.5L1086.6,600.7L1087.2,600.8L1087.7,600.8L1088.3,601.1L1088.8,601.4L1089.4,601.5L1089.9,601.6L1090.5,601.6L1091.0,601.6L1091.6,601.7L1092.1,601.5L1092.7,601.8L1093.2,602.0L1093.8,602.0L1094.3,602.3L1094.9,602.5L1095.4,602.4L1096.0,602.5L1096.5,602.5L1097.1,603.0L1097.6,602.7L1098.2,602.9L1098.7,603.3L1099.3,603.1L1099.8,603.1L1100.4,603.1L1100.9,602.9L1101.5,603.4L1102.0,603.5L1102.6,603.5L1103.1,603.5L1103.7,603.8L1104.2,603.9L1104.8,603.8L1105.3,604.1L1105.9,604.1L1106.4,604.2L1107.0,604.4L1107.5,604.3L1108.0,604.5L1108.6,604.5L1109.1,605.2L1109.7,605.2L1110.2,605.3L1110.8,605.2L1111.3,605.1L1111.9,605.2L1112.4,605.2L1113.0,605.3L1113.5,605.4L1114.1,605.7L1114.6,606.1L1115.2,606.5L1115.7,606.4L1116.3,606.7L1116.8,607.0L1117.4,606.8L1117.9,606.6L1118.5,606.6L1119.0,607.0L1119.6,606.9L1120.1,606.8L1120.7,607.1L1121.2,607.0L1121.8,607.0L1122.3,607.1L1122.9,607.1L1123.4,606.7L1124.0,606.6L1124.5,606.9L1125.1,606.8L1125.6,607.1L1126.2,607.2L1126.7,607.3L1127.3,607.5L1127.8,607.2L1128.4,607.2L1128.9,607.2L1129.5,607.4L1130.0,607.8L1130.6,607.8L1131.1,607.9L1131.7,607.6L1132.2,607.7L1132.8,607.8L1133.3,607.9L1133.9,608.1L1134.4,608.4L1135.0,608.5L1135.5,608.6L1136.1,608.3L1136.6,608.5L1137.2,608.6L1137.7,608.4L1138.2,608.6L1138.8,608.6L1139.3,608.8L1139.9,609.0L1140.4,609.0L1141.0,609.3L1141.5,609.3L1142.1,609.3L1142.6,609.3L1143.2,609.4L1143.7,609.3L1144.3,609.4L1144.8,609.5L1145.4,609.5L1145.9,609.3L1146.5,609.6L1147.0,609.8L1147.6,610.0L1148.1,610.1L1148.7,610.3L1149.2,610.3L1149.8,610.5L1150.3,610.4L1150.9,610.2L1151.4,610.2L1152.0,610.2L1152.5,610.3L1153.1,610.5L1153.6,610.6L1154.2,610.7L1154.7,610.9L1155.3,611.1L1155.8,611.0L1156.4,610.8L1156.9,611.0L1157.5,610.8L1158.0,610.5L1158.6,610.3L1159.1,610.5L1159.7,610.4L1160.2,610.4L1160.8,610.4L1161.3,610.7L1161.9,610.5L1162.4,610.6L1163.0,610.7L1163.5,610.9L1164.1,610.9L1164.6,610.9L1165.2,610.9L1165.7,611.1L1166.3,611.2L1166.8,611.1L1167.4,611.2L1167.9,611.0L1168.4,611.0L1169.0,611.0L1169.5,611.0L1170.1,611.2L1170.6,-30.8L1171.2,29.8L1171.7,53.4L1172.3,70.9L1172.8,83.8L1173.4,93.7L1173.9,102.1L1174.5,111.0L1175.0,121.5L1175.6,132.5L1176.1,143.0L1176.7,151.5L1177.2,157.8L1177.8,166.3L1178.3,175.4L1178.9,183.4L1179.4,188.8L1180.0,189.4L1180.5,194.5L1181.1,201.3L1181.6,206.1L1182.2,213.2L1182.7,216.5L1183.3,221.4L1183.8,225.6L1184.4,229.5L1184.9,230.9L1185.5,234.5L1186.0,238.5L1186.6,241.2L1187.1,242.7L1187.7,245.6L1188.2,247.9L1188.8,252.1L1189.3,257.0L1189.9,260.7L1190.4,264.5L1191.0,267.6L1191.5,271.5L1192.1,272.5L1192.6,277.0L1193.2,282.6L1193.7,286.0L1194.3,291.2L1194.8,293.0L1195.4,297.3L1195.9,301.0L1196.5,305.5L1197.0,309.3L1197.6,315.9L1198.1,314.3L1198.6,316.0L1199.2,319.0L1199.7,323.1L1200.3,325.7L1200.8,328.3L1201.4,329.5L1201.9,331.1L1202.5,333.6L1203.0,339.3L1203.6,341.0L1204.1,347.8L1204.7,351.4L1205.2,352.8L1205.8,356.0L1206.3,359.3L1206.9,359.4L1207.4,359.5L1208.0,364.4L1208.5,365.4L1209.1,369.3L1209.6,372.6L1210.2,372.4L1210.7,376.0L1211.3,379.1L1211.8,383.0L1212.4,384.6L1212.9,386.8L1213.5,388.8L1214.0,389.8L1214.6,393.4L1215.1,395.7L1215.7,398.6L1216.2,399.5L1216.8,401.6L1217.3,400.6L1217.9,400.4L1218.4,402.9L1219.0,403.3L1219.5,403.7L1220.1,405.0L1220.6,403.8L1221.2,405.5L1221.7,407.6L1222.3,408.4L1222.8,408.2L1223.4,412.2L1223.9,413.9L1224.5,413.5L1225.0,414.0L1225.6,413.3L1226.1,412.8L1226.7,412.5L1227.2,414.1L1227.8,417.4L1228.3,420.9L1228.8,422.8L1229.4,426.3L1229.9,428.7L1230.5,428.6L1231.0,429.3L1231.6,431.8L1232.1,434.7L1232.7,437.9L1233.2,437.4L1233.8,436.5L1234.3,441.8L1234.9,443.1L1235.4,446.3L1236.0,447.8L1236.5,447.4L1237.1,451.4L1237.6,453.6L1238.2,457.1L1238.7,459.0L1239.3,458.7L1239.8,460.1L1240.4,463.0L1240.9,463.4L1241.5,465.3L1242.0,468.6L1242.6,468.3L1243.1,469.7L1243.7,471.9L1244.2,475.2L1244.8,476.6L1245.3,477.3L1245.9,479.9L1246.4,480.6L1247.0,482.9L1247.5,484.9L1248.1,486.0L1248.6,488.4L1249.2,491.0L1249.7,489.9L1250.3,491.7L1250.8,492.4L1251.4,493.0L1251.9,494.2L1252.5,496.9L1253.0,497.3L1253.6,497.7L1254.1,496.8L1254.7,497.8L1255.2,499.0L1255.8,498.8L1256.3,499.7L1256.9,501.7L1257.4,504.8L1258.0,505.1L1258.5,508.6L1259.0,510.3L1259.6,511.6L1260.1,512.4L1260.7,512.5L1261.2,511.8L1261.8,512.2L1262.3,512.9L1262.9,513.7L1263.4,516.5L1264.0,519.5L1264.5,520.1L1265.1,521.4L1265.6,520.3L1266.2,517.9L1266.7,518.7L1267.3,519.9L1267.8,522.6L1268.4,526.2L1268.9,526.5L1269.5,528.2L1270.0,529.5L1270.6,529.6L1271.1,530.5L1271.7,530.9L1272.2,532.9L1272.8,531.4L1273.3,528.9L1273.9,530.0L1274.4,532.0L1275.0,533.9L1275.5,533.7L1276.1,535.0L1276.6,534.8L1277.2,536.4L1277.7,536.1L1278.3,535.8L1278.8,537.9L1279.4,537.4L1279.9,536.9L1280.5,539.1L1281.0,540.3L1281.6,538.9L1282.1,541.6L1282.7,541.4L1283.2,542.3L1283.8,543.5L1284.3,546.6L1284.9,547.3L1285.4,548.9L1286.0,549.4L1286.5,550.5L1287.1,549.8L1287.6,550.6L1288.2,551.0L1288.7,551.0L1289.2,552.4L1289.8,554.2L1290.3,555.4L1290.9,555.7L1291.4,557.0L1292.0,556.7L1292.5,557.7L1293.1,558.8L1293.6,559.4L1294.2,559.8L1294.7,560.5L1295.3,560.7L1295.8,561.2L1296.4,562.5L1296.9,561.6L1297.5,563.3L1298.0,564.3L1298.6,564.9L1299.1,564.7L1299.7,565.1L1300.2,565.3L1300.8,566.5L1301.3,567.6L1301.9,568.8L1302.4,569.2L1303.0,568.2L1303.5,568.2L1304.1,568.7L1304.6,569.6L1305.2,569.3L1305.7,570.0L1306.3,570.8L1306.8,571.1L1307.4,571.7L1307.9,573.8L1308.5,574.1L1309.0,575.6L1309.6,575.9L1310.1,575.6L1310.7,576.3L1311.2,576.3L1311.8,576.6L1312.3,575.6L1312.9,576.5L1313.4,576.7L1314.0,577.9L1314.5,578.3L1315.1,578.5L1315.6,578.3L1316.2,578.9L1316.7,579.2L1317.3,579.3L1317.8,580.8L1318.4,581.0L1318.9,581.8L1319.4,582.8L1320.0,583.1L1320.5,583.5L1321.1,583.9L1321.6,584.4L1322.2,584.8L1322.7,585.0L1323.3,585.1L1323.8,585.0L1324.4,585.0L1324.9,584.9L1325.5,585.4L1326.0,586.3L1326.6,586.0L1327.1,586.0L1327.7,585.9L1328.2,586.3L1328.8,587.2L1329.3,587.3L1329.9,587.8L1330.4,587.1L1331.0,587.5L1331.5,588.2L1332.1,588.3L1332.6,588.0L1333.2,588.7L1333.7,589.1L1334.3,590.2L1334.8,590.2L1335.4,590.5L1335.9,590.6L1336.5,591.0L1337.0,590.6L1337.6,591.5L1338.1,592.1L1338.7,592.2L1339.2,592.4L1339.8,592.8L1340.3,593.2L1340.9,593.3L1341.4,593.5L1342.0,593.9L1342.5,594.0L1343.1,594.1L1343.6,594.3L1344.2,594.4L1344.7,594.3L1345.3,594.4L1345.8,594.9L1346.4,595.5L1346.9,595.8L1347.5,594.9L1348.0,594.9L1348.6,595.5L1349.1,596.5L1349.6,597.1L1350.2,597.2L1350.7,597.2L1351.3,597.3L1351.8,598.0L1352.4,598.2L1352.9,598.0L1353.5,598.5L1354.0,598.8L1354.6,598.3L1355.1,598.3L1355.7,598.8L1356.2,599.2L1356.8,599.0L1357.3,599.2L1357.9,599.6L1358.4,599.8L1359.0,599.6L1359.5,599.7L1360.1,600.0L1360.6,600.3L1361.2,600.1L1361.7,600.9L1362.3,601.0L1362.8,600.6L1363.4,600.7L1363.9,600.1L1364.5,600.2L1365.0,600.5L1365.6,601.3L1366.1,601.5L1366.7,601.6L1367.2,601.9L1367.8,602.0L1368.3,601.9L1368.9,602.3L1369.4,602.4L1370.0,602.8L1370.5,603.0L1371.1,602.7L1371.6,602.6L1372.2,602.6L1372.7,602.5L1373.3,602.7L1373.8,602.8L1374.4,602.6L1374.9,603.1L1375.5,603.4L1376.0,603.4L1376.6,603.2L1377.1,603.1L1377.7,603.1L1378.2,603.0L1378.8,602.9L1379.3,603.1L1379.8,603.4L1380.4,603.6L1380.9,603.5L1381.5,603.7L1382.0,604.2L1382.6,604.2L1383.1,604.2L1383.7,604.8L1384.2,604.8L1384.8,604.6L1385.3,604.8L1385.9,604.6L1386.4,604.5L1387.0,604.8L1387.5,604.7L1388.1,604.4L1388.6,604.7L1389.2,604.9L1389.7,604.7L1390.3,604.7L1390.8,605.1L1391.4,605.2L1391.9,605.4L1392.5,605.4L1393.0,605.3L1393.6,605.2L1394.1,605.3L1394.7,605.4L1395.2,605.0L1395.8,604.8L1396.3,605.0L1396.9,605.3L1397.4,605.4L1398.0,605.5L1398.5,605.5L1399.1,605.4L1399.6,605.6L1400.2,605.7L1400.7,605.8L1401.3,605.7L1401.8,605.9L1402.4,606.0L1402.9,606.1L1403.5,606.2L1404.0,606.3L1404.6,606.5L1405.1,606.7L1405.7,607.1L1406.2,607.3L1406.8,607.3L1407.3,607.0L1407.9,607.2L1408.4,607.1L1409.0,607.4L1409.5,607.2L1410.0,607.2L1410.6,607.5L1411.1,607.5L1411.7,607.7L1412.2,607.8L1412.8,607.7L1413.3,607.9L1413.9,607.8L1414.4,607.8L1415.0,608.2L1415.5,608.1L1416.1,608.2L1416.6,608.1L1417.2,608.3L1417.7,608.2L1418.3,608.1L1418.8,608.1L1419.4,608.0L1419.9,607.9L1420.5,608.0L1421.0,608.1L1421.6,608.2L1422.1,608.2L1422.7,608.2L1423.2,608.3L1423.8,608.4L1424.3,608.4L1424.9,608.5L1425.4,608.6L1426.0,608.8L1426.5,609.0L1427.1,609.1L1427.6,609.3L1428.2,609.2L1428.7,609.4L1429.3,609.4L1429.8,609.3L1430.4,609.4L1430.9,609.3L1431.5,609.6L1432.0,609.6L1432.6,609.4L1433.1,609.3L1433.7,609.3L1434.2,609.3L1434.8,609.4L1435.3,609.6L1435.9,609.8L1436.4,609.8L1437.0,609.7L1437.5,609.9L1438.1,610.0L1438.6,609.7L1439.2,609.7L1439.7,609.7L1440.2,609.6L1440.8,609.8L1441.3,609.9L1441.9,610.0L1442.4,609.8L1443.0,609.6L1443.5,609.5L1444.1,609.5L1444.6,609.5L1445.2,-30.1L1445.7,29.1L1446.3,90.6L1446.8,150.5L1447.4,201.4L1447.9,240.5L1448.5,275.1L1449.0,306.1L1449.6,334.3L1450.1,360.6L1450.7,385.7L1451.2,410.5L1451.8,435.8L1452.3,459.4L1452.9,479.1L1453.4,492.5L1454.0,502.0L1454.5,509.6L1455.1,516.1L1455.6,522.3L1456.2,528.9L1456.7,535.7L1457.3,542.2L1457.8,548.6L1458.4,555.0L1458.9,561.4L1459.5,568.7L1460.0,575.6L1460.6,580.4L1461.1,583.6L1461.7,586.1L1462.2,588.3L1462.8,590.2L1463.3,592.0L1463.9,593.8L1464.4,595.4L1465.0,596.9L1465.5,598.4L1466.1,599.8L1466.6,601.1L1467.2,602.3L1467.7,603.5L1468.3,604.7L1468.8,605.8L1469.4,606.8L1469.9,607.7L1470.4,608.4L1471.0,608.9L1471.5,609.4L1472.1,609.9L1472.6,610.3L1473.2,610.7L1473.7,611.1L1474.3,611.4L1474.8,611.6L1475.4,611.9L1475.9,612.1L1476.5,612.3L1477.0,612.5L1477.6,612.7L1478.1,612.8L1478.7,613.0L1479.2,613.1L1479.8,613.2L1480.3,613.4L1480.9,613.4L1481.4,613.5L1482.0,613.6L1482.5,613.7L1483.1,613.8L1483.6,613.8L1484.2,613.9L1484.7,614.0L1485.3,614.0L1485.8,614.1L1486.4,614.1L1486.9,614.2L1487.5,614.3L1488.0,614.3L1488.6,614.3L1489.1,614.4L1489.7,614.4L1490.2,614.5L1490.8,614.5L1491.3,614.6L1491.9,614.6L1492.4,614.6L1493.0,614.7L1493.5,614.7L1494.1,614.7L1494.6,614.8L1495.2,614.8L1495.7,614.8L1496.3,614.8L1496.8,614.9L1497.4,614.9L1497.9,614.9L1498.5,614.9L1499.0,615.0L1499.6,615.0L1500.1,615.0"/>
</g>
<g fill="none" stroke="#000" stroke-width="1.70" stroke-linecap="square">
<rect x="144.35" y="13.80" width="604.00" height="601.55"/>
<rect x="896.10" y="13.80" width="604.00" height="601.55"/>
</g>
<g fill="none" stroke="#000" stroke-width="1.70" stroke-linecap="butt">
<line x1="144.35" y1="615.35" x2="144.35" y2="622.65"/>
<line x1="418.90" y1="615.35" x2="418.90" y2="622.65"/>
<line x1="693.44" y1="615.35" x2="693.44" y2="622.65"/>
<line x1="896.10" y1="615.35" x2="896.10" y2="622.65"/>
<line x1="1170.65" y1="615.35" x2="1170.65" y2="622.65"/>
<line x1="1445.19" y1="615.35" x2="1445.19" y2="622.65"/>
<line x1="137.05" y1="615.35" x2="144.35" y2="615.35"/>
<line x1="137.05" y1="515.09" x2="144.35" y2="515.09"/>
<line x1="137.05" y1="414.83" x2="144.35" y2="414.83"/>
<line x1="137.05" y1="314.57" x2="144.35" y2="314.57"/>
<line x1="137.05" y1="214.32" x2="144.35" y2="214.32"/>
<line x1="137.05" y1="114.06" x2="144.35" y2="114.06"/>
<line x1="137.05" y1="13.80" x2="144.35" y2="13.80"/>
<line x1="888.80" y1="615.35" x2="896.10" y2="615.35"/>
<line x1="888.80" y1="495.04" x2="896.10" y2="495.04"/>
<line x1="888.80" y1="374.73" x2="896.10" y2="374.73"/>
<line x1="888.80" y1="254.42" x2="896.10" y2="254.42"/>
<line x1="888.80" y1="134.11" x2="896.10" y2="134.11"/>
<line x1="888.80" y1="13.80" x2="896.10" y2="13.80"/>
</g>
<g font-size="43.40">
<text transform="translate(130.00,630.85) scale(1,1.020)" text-anchor="end">0.70</text>
<text transform="translate(130.00,530.59) scale(1,1.020)" text-anchor="end">0.75</text>
<text transform="translate(130.00,430.33) scale(1,1.020)" text-anchor="end">0.80</text>
<text transform="translate(130.00,330.07) scale(1,1.020)" text-anchor="end">0.85</text>
<text transform="translate(130.00,229.82) scale(1,1.020)" text-anchor="end">0.90</text>
<text transform="translate(130.00,129.56) scale(1,1.020)" text-anchor="end">0.95</text>
<text transform="translate(130.00,29.30) scale(1,1.020)" text-anchor="end">1.00</text>
<text transform="translate(881.75,630.85) scale(1,1.020)" text-anchor="end">0.0</text>
<text transform="translate(881.75,510.54) scale(1,1.020)" text-anchor="end">0.2</text>
<text transform="translate(881.75,390.23) scale(1,1.020)" text-anchor="end">0.4</text>
<text transform="translate(881.75,269.92) scale(1,1.020)" text-anchor="end">0.6</text>
<text transform="translate(881.75,149.61) scale(1,1.020)" text-anchor="end">0.8</text>
<text transform="translate(881.75,29.30) scale(1,1.020)" text-anchor="end">1.0</text>
<text transform="translate(144.25,660.20) scale(1,1.020)" text-anchor="middle">0</text>
<text transform="translate(418.80,660.20) scale(1,1.020)" text-anchor="middle">500</text>
<text transform="translate(693.34,660.20) scale(1,1.020)" text-anchor="middle">1000</text>
<text transform="translate(896.00,660.20) scale(1,1.020)" text-anchor="middle">0</text>
<text transform="translate(1170.55,660.20) scale(1,1.020)" text-anchor="middle">500</text>
<text transform="translate(1445.09,660.20) scale(1,1.020)" text-anchor="middle">1000</text>
</g>
<text><tspan class="fi" x="343.21" y="706.70" font-size="42.95" textLength="19.94" lengthAdjust="spacingAndGlyphs">k</tspan><tspan class="fr" x="364.50" y="706.7" font-size="42.80" textLength="184.60" lengthAdjust="spacingAndGlyphs">th iteration</tspan></text>
<text><tspan class="fi" x="1094.96" y="706.70" font-size="42.95" textLength="19.94" lengthAdjust="spacingAndGlyphs">k</tspan><tspan class="fr" x="1116.25" y="706.7" font-size="42.80" textLength="184.60" lengthAdjust="spacingAndGlyphs">th iteration</tspan></text>
<text transform="rotate(-90)"><tspan class="fds" x="-367.99" y="32.85" font-size="40.18" textLength="38.14" lengthAdjust="spacingAndGlyphs">&#x2131;</tspan><tspan class="fi" x="-331.23" y="38.90" font-size="30.51" textLength="9.79" lengthAdjust="spacingAndGlyphs">j</tspan><tspan class="fr" x="-317.28" y="32.39" font-size="48.42" textLength="13.48" lengthAdjust="spacingAndGlyphs" stroke="#fff" stroke-width="0.70">(</tspan><tspan class="fi" x="-302.03" y="32.30" font-size="43.53" textLength="20.56" lengthAdjust="spacingAndGlyphs">k</tspan><tspan class="fr" x="-279.96" y="32.39" font-size="48.42" textLength="14.00" lengthAdjust="spacingAndGlyphs" stroke="#fff" stroke-width="0.70">)</tspan></text>
<text transform="rotate(-90)"><tspan class="fdm" x="-365.38" y="809.15" font-size="38.13" textLength="49.66" lengthAdjust="spacingAndGlyphs">&#x1D4B2;</tspan><tspan class="fr" x="-319.75" y="810.14" font-size="48.19" textLength="14.00" lengthAdjust="spacingAndGlyphs" stroke="#fff" stroke-width="0.70">(</tspan><tspan class="fi" x="-304.01" y="810.10" font-size="44.10" textLength="20.14" lengthAdjust="spacingAndGlyphs">k</tspan><tspan class="fr" x="-282.39" y="810.14" font-size="48.19" textLength="14.39" lengthAdjust="spacingAndGlyphs" stroke="#fff" stroke-width="0.70">)</tspan></text>
<line x1="177.9" y1="105.8" x2="249.3" y2="280.7" stroke="#000" stroke-width="2.3"/>
<polygon fill="#000" points="253.8,291.7 237.8,278.9 248.8,279.3 256.3,271.3"/>
<circle cx="177.9" cy="105.8" r="3.85" fill="#000"/>
<line x1="421.1" y1="187.0" x2="553.3" y2="283.7" stroke="#000" stroke-width="2.3"/>
<polygon fill="#000" points="562.9,290.7 542.5,288.2 552.1,282.8 554.4,272.1"/>
<circle cx="421.1" cy="187.0" r="3.85" fill="#000"/>
<text class="fr" font-size="100.00" transform="translate(253.18,330.20) scale(0.5195,1.2783)" stroke="#fff" stroke-width="0.70" vector-effect="non-scaling-stroke">{</text>
<text><tspan class="fi" x="279.21" y="272.05" font-size="42.06" textLength="13.80" lengthAdjust="spacingAndGlyphs">j</tspan> <tspan class="fr" x="304.85" y="276.28" font-size="43.00" textLength="34.54" lengthAdjust="spacingAndGlyphs">=</tspan> <tspan class="fr" x="349.89" y="273.66" font-size="44.75" textLength="22.41" lengthAdjust="spacingAndGlyphs">0</tspan></text>
<text><tspan class="fi" x="279.21" y="335.15" font-size="42.06" textLength="13.80" lengthAdjust="spacingAndGlyphs">j</tspan> <tspan class="fr" x="304.85" y="339.38" font-size="43.00" textLength="34.54" lengthAdjust="spacingAndGlyphs">=</tspan> <tspan class="fr" x="349.92" y="336.37" font-size="44.20" textLength="22.21" lengthAdjust="spacingAndGlyphs">3</tspan></text>
<text class="fr" font-size="100.00" transform="translate(563.18,330.20) scale(0.5195,1.2783)" stroke="#fff" stroke-width="0.70" vector-effect="non-scaling-stroke">{</text>
<text><tspan class="fi" x="591.21" y="272.05" font-size="42.06" textLength="13.80" lengthAdjust="spacingAndGlyphs">j</tspan> <tspan class="fr" x="616.85" y="276.28" font-size="43.00" textLength="34.54" lengthAdjust="spacingAndGlyphs">=</tspan> <tspan class="fr" x="661.98" y="272.90" font-size="43.93" textLength="21.16" lengthAdjust="spacingAndGlyphs">1</tspan></text>
<text><tspan class="fi" x="591.21" y="335.15" font-size="42.06" textLength="13.80" lengthAdjust="spacingAndGlyphs">j</tspan> <tspan class="fr" x="616.85" y="339.38" font-size="43.00" textLength="34.54" lengthAdjust="spacingAndGlyphs">=</tspan> <tspan class="fr" x="662.33" y="335.90" font-size="43.50" textLength="22.45" lengthAdjust="spacingAndGlyphs">2</tspan></text>
</svg>
</body>
</html>
